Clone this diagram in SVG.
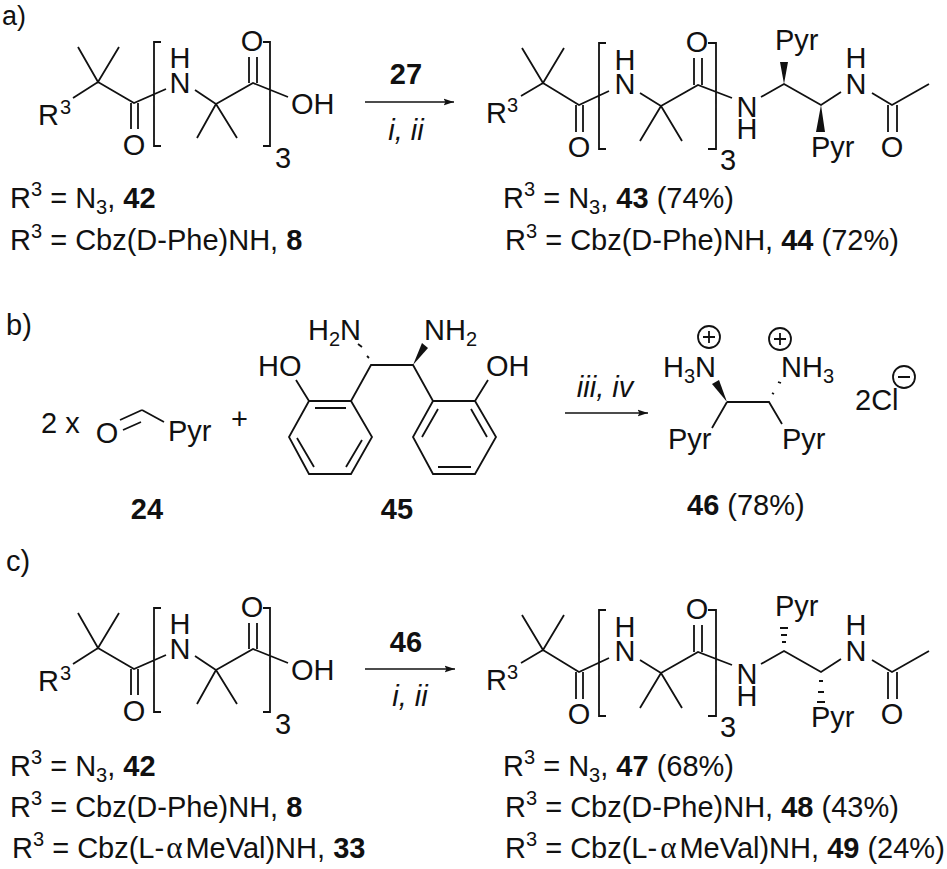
<svg xmlns="http://www.w3.org/2000/svg" width="947" height="869" viewBox="0 0 947 869">
<defs>
<marker id="ah" markerUnits="userSpaceOnUse" markerWidth="11" markerHeight="8" refX="10.5" refY="4" orient="auto"><path d="M0 .5L10.5 4L0 7.5L2 4Z" fill="#111"/></marker>
</defs>
<style>
text{font-family:"Liberation Sans",Arial,sans-serif;font-size:29px;fill:#111}
.s{font-size:20px}
.m{text-anchor:middle}
.b{font-weight:bold}
.i{font-style:italic}
.g{font-family:"Liberation Serif","Times New Roman",serif;font-size:31px}
path.l,line,circle{fill:none;stroke:#111;stroke-width:1.8}
.w{fill:#111}
.a{stroke-width:1.4;marker-end:url(#ah)}
.t{font-size:27px}
</style>
<rect width="947" height="869" fill="#fff"/>
<text class="t" x="2" y="24.5">a)</text>
<text x="6" y="335">b)</text>
<text x="6" y="571">c)</text>

<g id="acid-a">
<path class="l" d="M78 47L98 82L119 47M73 98L98 82L134 103L166 89M131 103V129M138 103V129M161 42H154V146H161M195 90L216 104L197 138M216 104L237 138M216 104L253 83L288 97M249 83V57M257 83V57M263 42H270V146H263"/>
<text x="38" y="125">R</text><text class="s" x="60" y="114">3</text>
<text class="m" x="134" y="155">O</text><text class="m" x="180" y="68">H</text><text class="m" x="180" y="93">N</text>
<text class="m" x="252" y="51">O</text><text x="291" y="114">OH</text><text x="275" y="168">3</text>
</g>
<g id="labels-a-left">
<text x="10" y="208">R<tspan class="s" dy="-12">3</tspan><tspan dy="12"> = N</tspan><tspan class="s" dy="6">3</tspan><tspan dy="-6">, </tspan><tspan class="b">42</tspan></text>
<text x="10" y="250">R<tspan class="s" dy="-12">3</tspan><tspan dy="12"> = Cbz(D-Phe)NH, </tspan><tspan class="b">8</tspan></text>
</g>
<g id="product-a">
<path class="l" d="M522 48L543 83L564 48M521 96L543 83L579 105L609 91M576 105V132M583 105V132M606 43H599V149H606M640 93L661 106L640 141M661 106L682 141M661 106L698 85L732 98M694 85V58M702 85V58M708 43H716V149H708M761 97L784 84L821 105L841 92M872 93L892 105L929 84M888 105V132M897 105V132"/>
<path class="w" d="M784 84L780 62H788ZM821 105L816 132H825Z"/>
<text x="486" y="123">R</text><text class="s" x="507" y="112">3</text>
<text class="m" x="579" y="157">O</text><text class="m" x="625" y="70">H</text><text class="m" x="625" y="94">N</text>
<text class="m" x="697" y="52">O</text><text x="720" y="170">3</text>
<text class="m" x="747" y="117">N</text><text class="m" x="747" y="139">H</text>
<text x="775" y="50">Pyr</text><text x="811" y="157">Pyr</text>
<text class="m" x="856" y="68">H</text><text class="m" x="856" y="94">N</text><text class="m" x="892" y="157">O</text>
</g>
<g id="labels-a-right">
<text x="503" y="208">R<tspan class="s" dy="-12">3</tspan><tspan dy="12"> = N</tspan><tspan class="s" dy="6">3</tspan><tspan dy="-6">, </tspan><tspan class="b">43</tspan> (74%)</text>
<text x="505" y="250">R<tspan class="s" dy="-12">3</tspan><tspan dy="12"> = Cbz(D-Phe)NH, </tspan><tspan class="b">44</tspan> (72%)</text>
</g>

<g id="aldehyde-24">
<text x="41" y="433">2 x</text>
<path class="l" d="M120 420L142 410M123 430L141 422M142 410L164 422"/>
<text class="m" x="107" y="443">O</text><text x="168" y="441">Pyr</text>
<text x="231" y="429">+</text>
<text class="m b" x="147" y="519">24</text>
</g>
<g id="diamine-45">
<path class="l" d="M309 401H351L372 437L351 474H309L289 437ZM315 408H346M297 438L314 467M362 440L346 467M433 401H475L496 437L475 474H433L413 437ZM438 409L422 437M471 409L487 437M438 467H471M351 401L371 365H413L433 401M296 380L309 401M488 380L475 401M369 358L367 356M362 347L358 344"/>
<path class="w" d="M413 365L422 343L428 348Z"/>
<text x="308" y="340">H<tspan class="s" dy="6">2</tspan><tspan dy="-6">N</tspan></text>
<text x="424" y="340">NH<tspan class="s" dy="6">2</tspan></text>
<text x="258" y="376">HO</text><text x="486" y="376">OH</text>
<text class="m b" x="397" y="519">45</text>
</g>
<g id="salt-46">
<path class="l" d="M727 402H769L782 424M727 402L712 428M774 394L772 393M781 383L778 382"/>
<path class="w" d="M727 402L712 384L719 380Z"/>
<circle cx="709" cy="337" r="11"/><circle cx="780" cy="339" r="11"/><circle cx="904" cy="377" r="11"/>
<path class="l" d="M703 337H715M709 331V343M774 339H786M780 333V345M898 377H910"/>
<text x="663" y="377">H<tspan class="s" dy="6">3</tspan><tspan dy="-6">N</tspan></text>
<text x="781" y="377">NH<tspan class="s" dy="6">3</tspan></text>
<text x="668" y="449">Pyr</text><text x="782" y="449">Pyr</text>
<text x="855" y="410">2Cl</text>
<text x="687" y="515"><tspan class="b">46</tspan> (78%)</text>
</g>

<g id="acid-c">
<path class="l" d="M78 613L98 648L119 613M73 664L98 648L134 669L166 655M131 669V695M138 669V695M161 608H154V712H161M195 656L216 670L197 704M216 670L237 704M216 670L253 649L288 663M249 649V623M257 649V623M263 608H270V712H263"/>
<text x="38" y="691">R</text><text class="s" x="60" y="680">3</text>
<text class="m" x="134" y="721">O</text><text class="m" x="180" y="634">H</text><text class="m" x="180" y="659">N</text>
<text class="m" x="252" y="617">O</text><text x="291" y="680">OH</text><text x="275" y="734">3</text>
</g>
<g id="labels-c-left">
<text x="10" y="776">R<tspan class="s" dy="-12">3</tspan><tspan dy="12"> = N</tspan><tspan class="s" dy="6">3</tspan><tspan dy="-6">, </tspan><tspan class="b">42</tspan></text>
<text x="10" y="817">R<tspan class="s" dy="-12">3</tspan><tspan dy="12"> = Cbz(D-Phe)NH, </tspan><tspan class="b">8</tspan></text>
<text x="12" y="858">R<tspan class="s" dy="-12">3</tspan><tspan dy="12"> = Cbz(L-</tspan><tspan class="g" dx="2">α</tspan><tspan dx="3">MeVal)NH, </tspan><tspan class="b">33</tspan></text>
</g>
<g id="product-c">
<path class="l" d="M522 615L543 650L564 615M521 663L543 650L579 672L609 658M576 672V699M583 672V699M606 610H599V716H606M640 660L661 673L640 708M661 673L682 708M661 673L698 652L732 665M694 652V625M702 652V625M708 610H716V716H708M761 664L784 651L821 672L841 659M872 660L892 672L929 651M888 672V699M897 672V699M782 642H786M781 635H787M780 628H788M819 681H823M818 692H824M817 702H825"/>
<text x="486" y="690">R</text><text class="s" x="507" y="679">3</text>
<text class="m" x="579" y="724">O</text><text class="m" x="625" y="637">H</text><text class="m" x="625" y="661">N</text>
<text class="m" x="697" y="619">O</text><text x="720" y="737">3</text>
<text class="m" x="747" y="684">N</text><text class="m" x="747" y="706">H</text>
<text x="775" y="616">Pyr</text><text x="811" y="727">Pyr</text>
<text class="m" x="856" y="635">H</text><text class="m" x="856" y="661">N</text><text class="m" x="892" y="724">O</text>
</g>
<g id="labels-c-right">
<text x="503" y="776">R<tspan class="s" dy="-12">3</tspan><tspan dy="12"> = N</tspan><tspan class="s" dy="6">3</tspan><tspan dy="-6">, </tspan><tspan class="b">47</tspan> (68%)</text>
<text x="505" y="817">R<tspan class="s" dy="-12">3</tspan><tspan dy="12"> = Cbz(D-Phe)NH, </tspan><tspan class="b">48</tspan> (43%)</text>
<text x="505" y="858">R<tspan class="s" dy="-12">3</tspan><tspan dy="12"> = Cbz(L-</tspan><tspan class="g" dx="3">α</tspan><tspan dx="3">MeVal)NH, </tspan><tspan class="b">49</tspan> (24%)</text>
</g>

<g id="connectors">
<line class="a" x1="365" y1="102" x2="454" y2="102"/>
<line class="a" x1="565" y1="413" x2="648" y2="413"/>
<line class="a" x1="365" y1="669" x2="455" y2="669"/>
</g>
<g id="conditions">
<text class="m b" x="406" y="84">27</text><text class="m i" x="406" y="140">i, ii</text>
<text class="m i" x="605" y="397">iii, iv</text>
<text class="m b" x="406" y="652">46</text><text class="m i" x="410" y="706">i, ii</text>
</g>
</svg>
